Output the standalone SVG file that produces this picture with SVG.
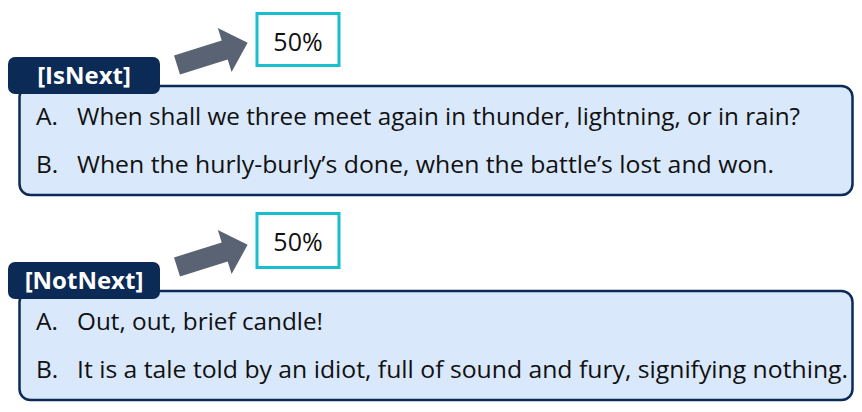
<svg xmlns="http://www.w3.org/2000/svg" width="862" height="412" viewBox="0 0 862 412">
<defs>
<style>
.panel{fill:#d9e8fb;stroke:#0b2a55;stroke-width:2.5}
.tab{fill:#0b2a55}
.tabtxt{font-family:"Open Sans","Liberation Sans",sans-serif;font-weight:bold;font-size:24px;fill:#ffffff;text-anchor:middle}
.txt{font-family:"Open Sans","Liberation Sans",sans-serif;font-size:24.5px;fill:#111111}
.pct{fill:#ffffff;stroke:#17c0cc;stroke-width:3}
.pcttxt{font-family:"Open Sans","Liberation Sans",sans-serif;font-size:25px;fill:#111111;text-anchor:middle}
.arrow{fill:#5a6374}
</style>
<polygon id="arr" points="0,-10 50,-10 50,-23 74,0 50,23 50,10 0,10"/>
</defs>
<g id="isnext">
<rect class="panel" x="19.5" y="86" width="833" height="109" rx="11"/>
<rect class="tab" x="8" y="57" width="152" height="37" rx="7"/>
<text class="tabtxt" x="84" y="84">[IsNext]</text>
<text class="txt" x="36" y="125">A.</text>
<text class="txt" x="77" y="125" textLength="723" lengthAdjust="spacingAndGlyphs">When shall we three meet again in thunder, lightning, or in rain?</text>
<text class="txt" x="36" y="173">B.</text>
<text class="txt" x="77" y="173" textLength="697" lengthAdjust="spacingAndGlyphs">When the hurly-burly’s done, when the battle’s lost and won.</text>
</g>
<g id="pct1">
<rect class="pct" x="257" y="13.5" width="82" height="52"/>
<text class="pcttxt" x="298" y="51">50%</text>
</g>
<g id="notnext">
<rect class="panel" x="19.5" y="291" width="833" height="109" rx="11"/>
<rect class="tab" x="8" y="262" width="152" height="37" rx="7"/>
<text class="tabtxt" x="84" y="289">[NotNext]</text>
<text class="txt" x="36" y="330">A.</text>
<text class="txt" x="77" y="330" textLength="246" lengthAdjust="spacingAndGlyphs">Out, out, brief candle!</text>
<text class="txt" x="36" y="378">B.</text>
<text class="txt" x="77" y="378" textLength="771" lengthAdjust="spacingAndGlyphs">It is a tale told by an idiot, full of sound and fury, signifying nothing.</text>
</g>
<g id="pct2">
<rect class="pct" x="257" y="213.5" width="82" height="54"/>
<text class="pcttxt" x="298" y="251">50%</text>
</g>
<g id="connectors">
<use href="#arr" class="arrow" transform="translate(177,65) rotate(-17.4)"/>
<use href="#arr" class="arrow" transform="translate(177,267) rotate(-17.4)"/>
</g>
</svg>
